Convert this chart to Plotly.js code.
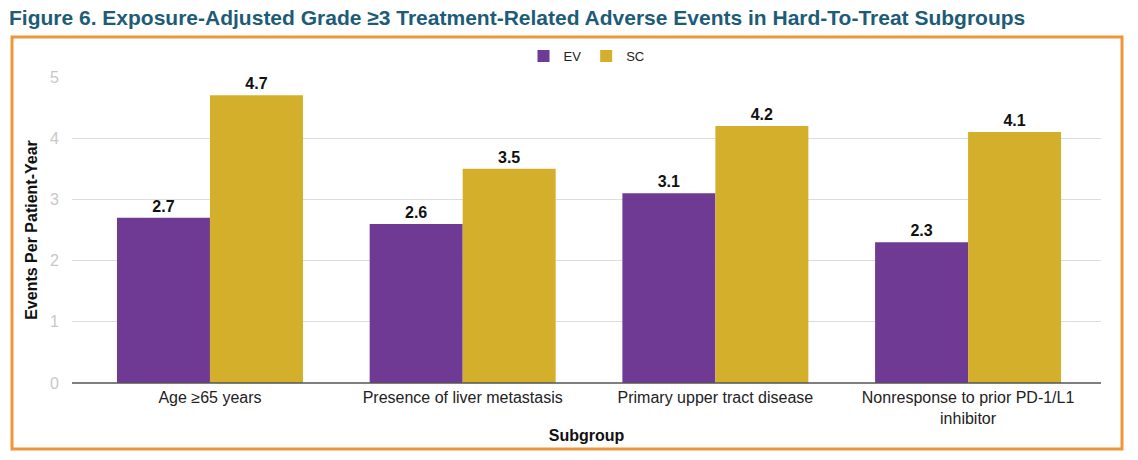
<!DOCTYPE html>
<html>
<head>
<meta charset="utf-8">
<script src="https://cdn.plot.ly/plotly-3.0.1.min.js"></script>
<style>
html,body{margin:0;padding:0;background:#fff;}
#chart{width:1138px;height:460px;}
</style>
</head>
<body>
<div id="chart"></div>
<script>
const categories = ["Age ≥65 years", "Presence of liver metastasis", "Primary upper tract disease", "Nonresponse to prior PD-1/L1<br>inhibitor"];
const evValues = [2.7, 2.6, 3.1, 2.3];
const scValues = [4.7, 3.5, 4.2, 4.1];
const seriesNames = ["EV", "SC"];
const yTicks = [0, 1, 2, 3, 4, 5];

const labelFont = {family: "Liberation Sans, Arial, sans-serif", size: 16, color: "#111"};
const traces = [
  {type: "bar", name: seriesNames[0], x: categories, y: evValues, marker: {color: "#6f3a94"},
   text: evValues.map(v => "<b>" + v.toFixed(1) + "</b>"), textposition: "outside", textfont: labelFont, cliponaxis: false, hoverinfo: "x+y"},
  {type: "bar", name: seriesNames[1], x: categories, y: scValues, marker: {color: "#d4af2c"},
   text: scValues.map(v => "<b>" + v.toFixed(1) + "</b>"), textposition: "outside", textfont: labelFont, cliponaxis: false, hoverinfo: "x+y"}
];

const L = 72, R = 1101, T = 77, B = 383;
const pw = R - L, ph = B - T;
const px = x => (x - L) / pw;
const py = y => (B - y) / ph;

const layout = {
  width: 1138, height: 460,
  margin: {l: L, r: 1138 - R, t: T, b: 460 - B, pad: 0},
  paper_bgcolor: "#fff", plot_bgcolor: "#fff",
  font: {family: "Liberation Sans, Arial, sans-serif", size: 16, color: "#222"},
  barmode: "group", bargap: 0.264, bargroupgap: 0,
  title: {text: "<b>Figure 6. Exposure-Adjusted Grade ≥3 Treatment-Related Adverse Events in Hard-To-Treat Subgroups</b>",
          x: 9 / 1138, xanchor: "left", xref: "container", y: 1 - 18 / 460, yanchor: "middle", yref: "container",
          font: {family: "Liberation Sans, Arial, sans-serif", size: 21, color: "#1d5c78"}},
  showlegend: true,
  legend: {orientation: "h", x: 0.5, xanchor: "center", y: py(56), yanchor: "middle",
           font: {size: 13, color: "#222"}, itemwidth: 30, traceorder: "normal", bgcolor: "rgba(0,0,0,0)"},
  xaxis: {type: "category", range: [-0.546, 3.526], showgrid: false, zeroline: false, showline: false,
          ticks: "", ticklabelstandoff: 3, tickfont: {size: 16, color: "#222"}, automargin: false,
          title: {text: "<b>Subgroup</b>", font: {size: 16, color: "#111"}, standoff: 4}},
  yaxis: {range: [0, 5], tickvals: yTicks, showgrid: true, gridcolor: "#dcdcdc", gridwidth: 1,
          zeroline: false, showline: false, ticks: "", ticklabelstandoff: 12,
          tickfont: {size: 16, color: "#c8c8c8"}, automargin: false,
          title: {text: "<b>Events Per Patient-Year</b>", font: {size: 16, color: "#111"}, standoff: 8}},
  shapes: [
    {type: "line", xref: "paper", yref: "paper", x0: 0, x1: 1, y0: 0, y1: 0, line: {color: "#555", width: 1.5}},
    {type: "rect", xref: "paper", yref: "paper", x0: px(12), x1: px(1122), y0: py(37), y1: py(449),
     line: {color: "#f0953a", width: 3}, fillcolor: "rgba(0,0,0,0)", layer: "below"}
  ]
};

Plotly.newPlot("chart", traces, layout, {displayModeBar: false, staticPlot: true});
</script>
</body>
</html>
